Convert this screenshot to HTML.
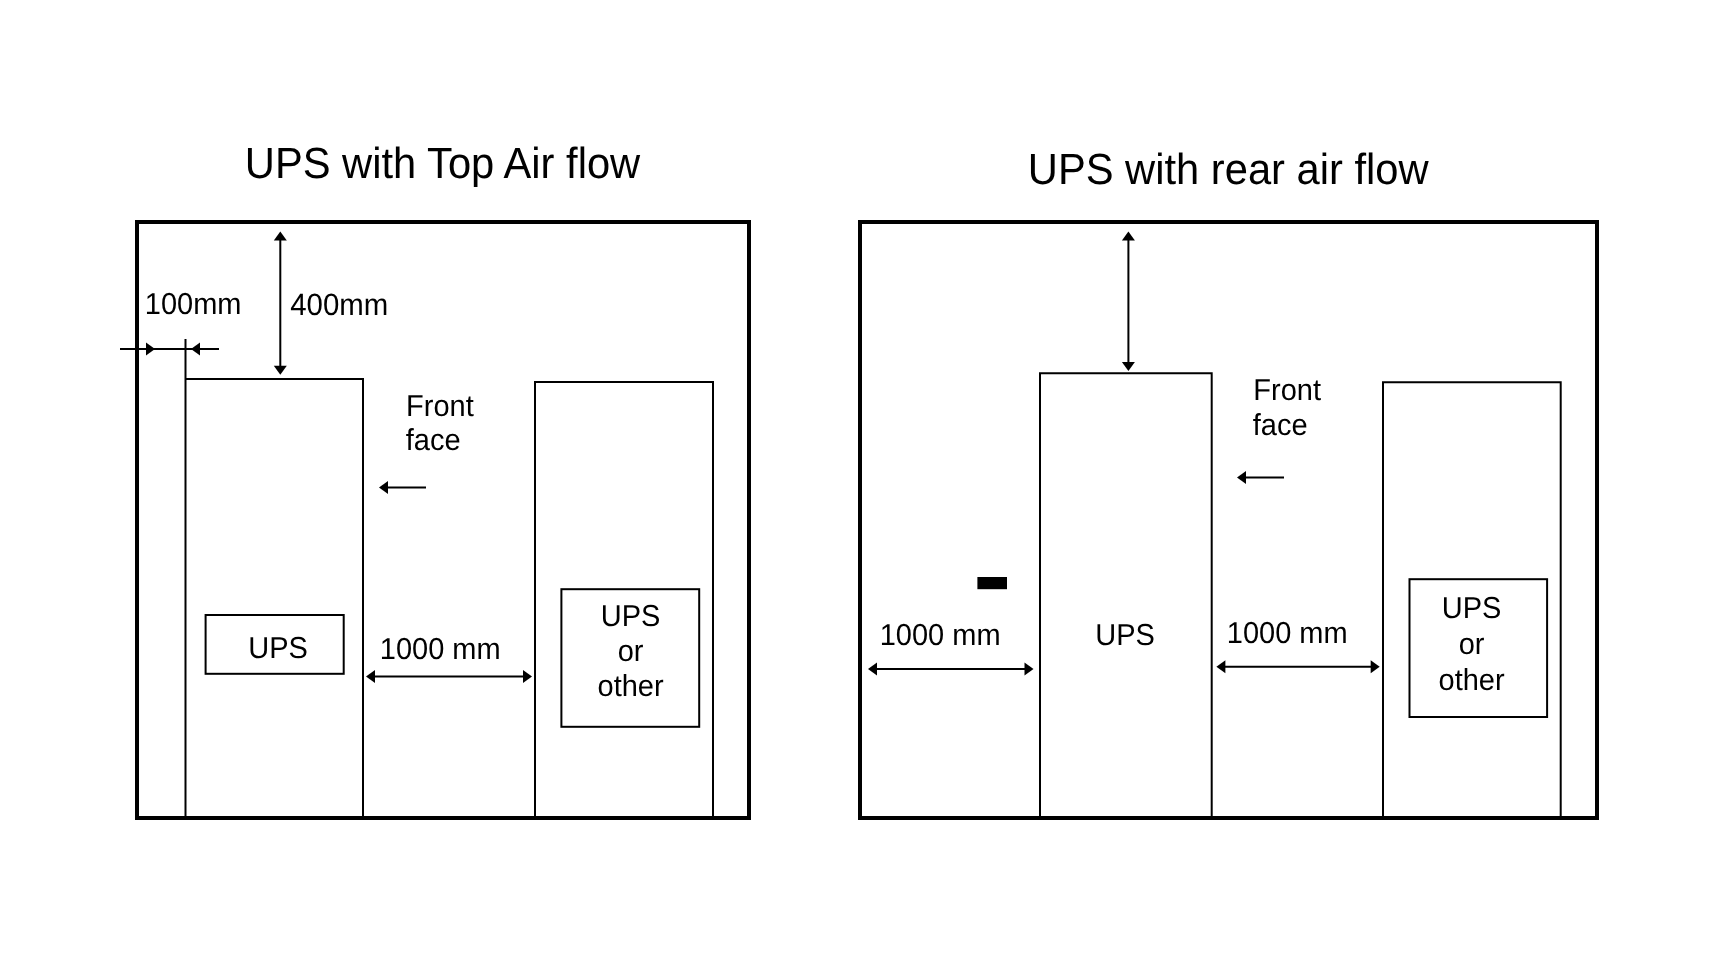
<!DOCTYPE html>
<html>
<head>
<meta charset="utf-8">
<style>
html,body{margin:0;padding:0;background:#fff;}
body{width:1717px;height:960px;overflow:hidden;position:relative;}
svg{position:absolute;left:0;top:0;will-change:transform;}
text{font-family:"Liberation Sans", sans-serif;fill:#000;text-rendering:geometricPrecision;}
</style>
</head>
<body>
<svg width="1717" height="960" viewBox="0 0 1717 960">
<text transform="translate(244.8 178) scale(1 1.045)" x="0" y="0" style="font-size:41.7px">UPS with Top Air flow</text>
<rect x="137" y="222" width="612" height="596" fill="none" stroke="#000" stroke-width="4"/>
<path d="M185.5 339 V816 M185.5 379 H363 V816" fill="none" stroke="#000" stroke-width="2"/>
<path d="M535 816 V382 H713 V816" fill="none" stroke="#000" stroke-width="2"/>
<path d="M120 349 H219" stroke="#000" stroke-width="2"/>
<path d="M155 349 L146 342.5 V355.5 Z" fill="#000"/>
<path d="M191 349 L200 342.5 V355.5 Z" fill="#000"/>
<text transform="translate(144.8 314.3) scale(1 1.045)" x="0" y="0" style="font-size:29px">100mm</text>
<path d="M280.3 239.6 V366.8" stroke="#000" stroke-width="2"/><path d="M280.3 231.6 L273.8 240.6 H286.8 Z" fill="#000"/><path d="M280.3 374.8 L273.8 365.8 H286.8 Z" fill="#000"/>
<text transform="translate(290.2 314.8) scale(1 1.045)" x="0" y="0" style="font-size:29.4px">400mm</text>
<text transform="translate(406.1 416) scale(1 1.045)" x="0" y="0" style="font-size:29px">Front</text>
<text transform="translate(405.8 450.3) scale(1 1.045)" x="0" y="0" style="font-size:29px">face</text>
<path d="M387 487.5 H426" stroke="#000" stroke-width="2"/><path d="M379 487.5 L388 481.0 V494.0 Z" fill="#000"/>
<rect x="205.6" y="615" width="138.1" height="58.8" fill="none" stroke="#000" stroke-width="2"/>
<text transform="translate(248.2 657.8) scale(1 1.045)" x="0" y="0" style="font-size:29px">UPS</text>
<text transform="translate(379.8 659) scale(1 1.045)" x="0" y="0" style="font-size:29px">1000 mm</text>
<path d="M374 676.4 H524" stroke="#000" stroke-width="2"/><path d="M366 676.4 L375 669.9 V682.9 Z" fill="#000"/><path d="M532 676.4 L523 669.9 V682.9 Z" fill="#000"/>
<rect x="561.4" y="589.2" width="137.8" height="137.6" fill="none" stroke="#000" stroke-width="2"/>
<text transform="translate(630.6 625.7) scale(1 1.045)" x="0" y="0" style="font-size:29px" text-anchor="middle">UPS</text>
<text transform="translate(630.6 661) scale(1 1.045)" x="0" y="0" style="font-size:29px" text-anchor="middle">or</text>
<text transform="translate(630.6 696.3) scale(1 1.045)" x="0" y="0" style="font-size:29px" text-anchor="middle">other</text>
<text transform="translate(1027.8 183.9) scale(1 1.045)" x="0" y="0" style="font-size:41.7px">UPS with rear air flow</text>
<rect x="860" y="222" width="737" height="596" fill="none" stroke="#000" stroke-width="4"/>
<path d="M1040 816 V373.3 H1211.7 V816" fill="none" stroke="#000" stroke-width="2"/>
<path d="M1383 816 V382.3 H1560.7 V816" fill="none" stroke="#000" stroke-width="2"/>
<path d="M1128.4 239.6 V363" stroke="#000" stroke-width="2"/><path d="M1128.4 231.6 L1121.9 240.6 H1134.9 Z" fill="#000"/><path d="M1128.4 371 L1121.9 362 H1134.9 Z" fill="#000"/>
<text transform="translate(1253.3 399.7) scale(1 1.045)" x="0" y="0" style="font-size:29px">Front</text>
<text transform="translate(1252.7 434.9) scale(1 1.045)" x="0" y="0" style="font-size:29px">face</text>
<path d="M1245 477.4 H1284" stroke="#000" stroke-width="2"/><path d="M1237 477.4 L1246 470.9 V483.9 Z" fill="#000"/>
<rect x="977.4" y="577" width="29.6" height="12.2" fill="#000"/>
<text transform="translate(879.7 644.9) scale(1 1.045)" x="0" y="0" style="font-size:29px">1000 mm</text>
<path d="M876 669 H1025.5" stroke="#000" stroke-width="2"/><path d="M868 669 L877 662.5 V675.5 Z" fill="#000"/><path d="M1033.5 669 L1024.5 662.5 V675.5 Z" fill="#000"/>
<text transform="translate(1095.3 644.7) scale(1 1.045)" x="0" y="0" style="font-size:29px">UPS</text>
<text transform="translate(1226.8 643.2) scale(1 1.045)" x="0" y="0" style="font-size:29px">1000 mm</text>
<path d="M1224.4 666.7 H1371.7" stroke="#000" stroke-width="2"/><path d="M1216.4 666.7 L1225.4 660.2 V673.2 Z" fill="#000"/><path d="M1379.7 666.7 L1370.7 660.2 V673.2 Z" fill="#000"/>
<rect x="1409.5" y="579.2" width="137.6" height="137.8" fill="none" stroke="#000" stroke-width="2"/>
<text transform="translate(1471.6 618.3) scale(1 1.045)" x="0" y="0" style="font-size:29px" text-anchor="middle">UPS</text>
<text transform="translate(1471.6 654.3) scale(1 1.045)" x="0" y="0" style="font-size:29px" text-anchor="middle">or</text>
<text transform="translate(1471.6 689.8) scale(1 1.045)" x="0" y="0" style="font-size:29px" text-anchor="middle">other</text>
</svg>
</body>
</html>
